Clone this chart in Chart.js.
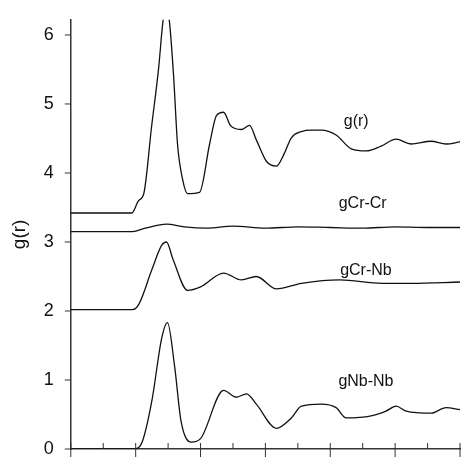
<!DOCTYPE html>
<html><head><script src="https://cdn.jsdelivr.net/npm/chart.js"></script>
<style>body{margin:0;background:#fff}#w{width:474px;height:474px}</style></head>
<body><div id="w"><canvas id="c"></canvas></div>
<script>
const rG=[0,1.88,2.09,2.25,2.49,2.71,2.83,2.95,3.05,3.17,3.29,3.45,3.6,3.97,4.28,4.49,4.71,4.92,5.26,5.51,5.72,6.03,6.34,6.58,6.8,7.11,7.42,7.72,8.18,8.65,9.11,9.57,10.03,10.49,11.11,11.57,12];
const gG=[3.42,3.42,3.6,3.7,4.67,5.53,6.15,6.5,6.15,5.4,4.42,3.9,3.7,3.72,4.42,4.83,4.88,4.69,4.63,4.69,4.48,4.17,4.1,4.28,4.51,4.6,4.62,4.62,4.55,4.35,4.32,4.39,4.49,4.42,4.46,4.42,4.45];
const rCC=[0,1.9,2.3,2.95,3.5,4.2,5,6,7,8,9,10,11,12];
const gCC=[3.15,3.15,3.2,3.26,3.22,3.2,3.23,3.2,3.22,3.21,3.2,3.22,3.21,3.21];
const rCN=[0,1.9,2.1,2.5,2.8,2.95,3.15,3.6,4.0,4.71,5.26,5.72,6.34,7.11,8.3,9.6,10.5,12];
const gCN=[2.02,2.02,2.1,2.6,2.95,3.0,2.75,2.3,2.35,2.55,2.45,2.5,2.32,2.4,2.45,2.4,2.4,2.42];
const rNN=[0,1.97,2.2,2.5,2.8,2.98,3.2,3.4,3.72,4.0,4.71,5.1,5.42,5.72,6.34,6.8,7.11,7.72,8.18,8.49,9.26,9.72,10.03,10.34,11.11,11.57,12];
const gNN=[0,0,0.1,0.7,1.6,1.83,1.2,0.4,0.1,0.15,0.85,0.75,0.8,0.65,0.3,0.45,0.62,0.65,0.6,0.45,0.48,0.55,0.62,0.55,0.52,0.6,0.57];
const labels=[["g(r)",8.8,4.75],["gCr-Cr",9.0,3.55],["gCr-Nb",9.1,2.58],["gNb-Nb",9.1,0.98]];
const mk=(r,g)=>({data:r.map((x,i)=>({x:x,y:g[i]})),borderColor:'#111',borderWidth:1.3,pointRadius:0,cubicInterpolationMode:'monotone',fill:false});
const F='Arial, "Liberation Sans"';
const txt={id:'t',afterDatasetsDraw(c){const x=c.scales.x,y=c.scales.y,k=c.ctx;k.save();k.fillStyle='#111';k.font='16px '+F;k.textAlign='center';k.textBaseline='middle';labels.forEach(l=>k.fillText(l[0],x.getPixelForValue(l[1]),y.getPixelForValue(l[2])));k.restore();}};
new Chart(document.getElementById('c'),{type:'line',data:{datasets:[mk(rG,gG),mk(rCC,gCC),mk(rCN,gCN),mk(rNN,gNN)]},
options:{animation:false,responsive:true,maintainAspectRatio:false,layout:{padding:{top:0,right:14,bottom:17,left:4}},
plugins:{legend:{display:false},tooltip:{enabled:false}},
scales:{x:{type:'linear',min:0,max:12,ticks:{stepSize:1,display:false},grid:{display:false},border:{color:'#333',width:1.5}},
y:{min:0,max:6.22,afterBuildTicks(a){a.ticks=[0,1,2,3,4,5,6].map(v=>({value:v}))},ticks:{color:'#111',font:{size:18,family:F},padding:9},grid:{display:false},border:{color:'#333',width:1.5},title:{display:true,text:'g(r)',color:'#111',font:{size:19,family:F}}}}},
plugins:[txt,{id:'tk',afterDraw(c){const x=c.scales.x,y=c.scales.y,k=c.ctx;k.save();k.strokeStyle='#333';k.lineWidth=1;const b=y.getPixelForValue(0);for(let v=0;v<=12;v++){const p=x.getPixelForValue(v);k.beginPath();if(v%2==0){k.moveTo(p,b-6);k.lineTo(p,b+8);}else{k.moveTo(p,b-6);k.lineTo(p,b);}k.stroke();}for(let v=0;v<=6;v++){const p=y.getPixelForValue(v);k.beginPath();k.moveTo(x.left-6,p);k.lineTo(x.left,p);k.stroke();}k.restore();}}]});
</script></body></html>
